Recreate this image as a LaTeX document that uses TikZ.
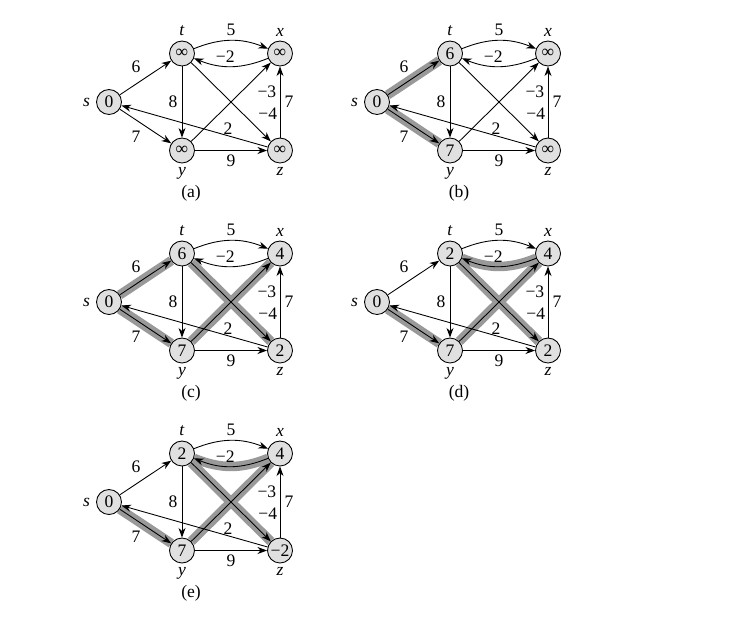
\documentclass[tikz,border=0pt]{standalone}
\usepackage{fontspec}
\setmainfont{Liberation Serif}
\usetikzlibrary{arrows.meta,backgrounds,positioning}

\tikzset{
	vtx/.style={circle, draw, line width=0.5pt, fill=black!12, minimum size=0.5cm, inner sep=0pt},
	bfedge/.style={line width=0.5pt, -{Stealth[length=5.5pt,width=4pt]}},
	pathhl/.style={line width=5.4pt, draw=black!40}
}

% one panel of the graph: values of s, t, x, y, z and the caption
\newcommand{\bfgraph}[6]{%
	\node[vtx, label={left:\textit{s}}] (s) at (0,0) {#1};
	\node[vtx, label={[label distance=-1pt]above:\textit{t}}] (t) at (73,48.5) {#2};
	\node[vtx, label={[label distance=-1pt]above:\textit{x}}] (x) at (171,48.5) {#3};
	\node[vtx, label={[label distance=-1.5pt]below:\textit{y}}] (y) at (73,-48.5) {#4};
	\node[vtx, label={[label distance=-1.5pt]below:\textit{z}}] (z) at (171,-48.5) {#5};
	\node (cap) at (82,-91.5) {#6};
	\draw[bfedge] (s) -- node[above left=-1pt] {6} (t);
	\draw[bfedge] (s) -- node[below left=-1pt] {7} (y);
	\draw[bfedge] (t) to[bend left=22] node[above=-1pt] {5} (x);
	\draw[bfedge] (x) to[bend left=22] node[pos=0.58, above=-1.5pt] {−2} (t);
	\draw[bfedge] (t) -- node[left=-1pt] {8} (y);
	\draw[bfedge] (t) -- node[pos=0.78, above right=-1pt] {−4} (z);
	\draw[bfedge] (y) -- node[pos=0.77, below right=-1pt] {−3} (x);
	\draw[bfedge] (y) -- node[below=-1pt] {9} (z);
	\draw[bfedge] (z) -- node[right=-1pt] {7} (x);
	\draw[bfedge] (z) -- node[pos=0.27, above=-3pt] {2} (s);
}

\begin{document}
\begin{tikzpicture}[x=0.02cm, y=0.02cm, font=\fontsize{10}{12}\selectfont]
	\begin{pgfonlayer}{background}
		\fill[white] (0,0) rectangle (733,-629);
	\end{pgfonlayer}
	\useasboundingbox (0,0) rectangle (733,-629);

	% (a)
	\begin{scope}[shift={(109,-102)}]
		\bfgraph{0}{∞}{∞}{∞}{∞}{(a)}
	\end{scope}

	% (b)
	\begin{scope}[shift={(377,-102)}]
		\bfgraph{0}{6}{∞}{7}{∞}{(b)}
		\begin{pgfonlayer}{background}
			\draw[pathhl] (s) -- (t) (s) -- (y);
		\end{pgfonlayer}
	\end{scope}

	% (c)
	\begin{scope}[shift={(109,-302)}]
		\bfgraph{0}{6}{4}{7}{2}{(c)}
		\begin{pgfonlayer}{background}
			\draw[pathhl] (s) -- (t) (s) -- (y) (y) -- (x) (t) -- (z);
		\end{pgfonlayer}
	\end{scope}

	% (d)
	\begin{scope}[shift={(377,-302)}]
		\bfgraph{0}{2}{4}{7}{2}{(d)}
		\begin{pgfonlayer}{background}
			\draw[pathhl] (s) -- (y) (y) -- (x) (t) -- (z);
			\draw[pathhl] (x) to[bend left=22] (t);
		\end{pgfonlayer}
	\end{scope}

	% (e)
	\begin{scope}[shift={(109,-502)}]
		\bfgraph{0}{2}{4}{7}{−2}{(e)}
		\begin{pgfonlayer}{background}
			\draw[pathhl] (s) -- (y) (y) -- (x) (t) -- (z);
			\draw[pathhl] (x) to[bend left=22] (t);
		\end{pgfonlayer}
	\end{scope}
\end{tikzpicture}
\end{document}
